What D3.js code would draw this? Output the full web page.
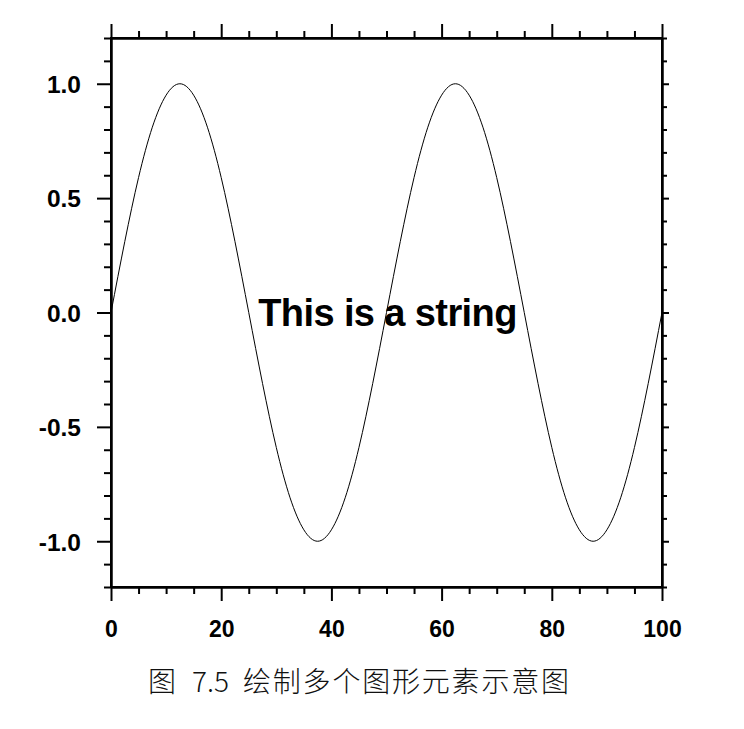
<!DOCTYPE html>
<html>
<head>
<meta charset="utf-8">
<script src="https://cdn.jsdelivr.net/npm/d3@7"></script>
<style>
  body { margin: 0; background: #fff; }
  svg { display: block; }
</style>
</head>
<body>
<svg width="744" height="729"></svg>
<script>
// curve points
const xValues = [0, 2.5, 5, 7.5, 10, 12.5, 15, 17.5, 20, 22.5, 25, 27.5, 30, 32.5, 35, 37.5, 40, 42.5, 45, 47.5,
                 50, 52.5, 55, 57.5, 60, 62.5, 65, 67.5, 70, 72.5, 75, 77.5, 80, 82.5, 85, 87.5, 90, 92.5, 95, 97.5, 100];
const yValues = [0, 0.31, 0.59, 0.81, 0.95, 1, 0.95, 0.81, 0.59, 0.31, 0, -0.31, -0.59, -0.81, -0.95, -1, -0.95, -0.81, -0.59, -0.31,
                 0, 0.31, 0.59, 0.81, 0.95, 1, 0.95, 0.81, 0.59, 0.31, 0, -0.31, -0.59, -0.81, -0.95, -1, -0.95, -0.81, -0.59, -0.31, 0];

const xTicks = [0, 20, 40, 60, 80, 100];
const yTicks = [-1.0, -0.5, 0.0, 0.5, 1.0];
const xMinor = [5, 10, 15, 25, 30, 35, 45, 50, 55, 65, 70, 75, 85, 90, 95];
const yMinor = [-1.2, -1.1, -0.9, -0.8, -0.7, -0.6, -0.4, -0.3, -0.2, -0.1, 0.1, 0.2, 0.3, 0.4, 0.6, 0.7, 0.8, 0.9, 1.1, 1.2];
const label = "This is a string";
const caption = ["图", "7.5", "绘制多个图形元素示意图"];

var svg = d3.select("svg");
const pLeft = 111, pRight = 662, pTop = 38, pBottom = 587;

var x = d3.scaleLinear().domain([0, 100]).range([pLeft, pRight]);
var y = d3.scaleLinear().domain([-1.2, 1.2]).range([pBottom, pTop]);

const tickFont = "'Liberation Sans', Arial, Helvetica, sans-serif";

// axes: major ticks 14px outward, minor 7px
function drawAxis(axis, translate) {
    var g = svg.append("g").attr("transform", translate).call(axis);
    g.select(".domain").attr("stroke-width", 2);
    g.selectAll("line").attr("stroke-width", 2);
    return g;
}

// bottom
var gb = drawAxis(d3.axisBottom(x).tickValues(xTicks).tickSize(14).tickSizeOuter(0).tickFormat(d3.format("d")),
    "translate(0," + pBottom + ")");
gb.selectAll("text").attr("font-family", tickFont).attr("font-weight", "bold")
    .attr("font-size", 23).attr("y", 0).attr("dy", "50").attr("fill", "#000");
drawAxis(d3.axisBottom(x).tickValues(xMinor).tickSize(7).tickSizeOuter(0).tickFormat(""), "translate(0," + pBottom + ")");

// top
drawAxis(d3.axisTop(x).tickValues(xTicks).tickSize(14).tickSizeOuter(0).tickFormat(""), "translate(0," + pTop + ")");
drawAxis(d3.axisTop(x).tickValues(xMinor).tickSize(7).tickSizeOuter(0).tickFormat(""), "translate(0," + pTop + ")");

// left
var gl = drawAxis(d3.axisLeft(y).tickValues(yTicks).tickSize(14).tickSizeOuter(0).tickFormat(d3.format(".1f")),
    "translate(" + pLeft + ",0)");
gl.selectAll("text").attr("font-family", tickFont).attr("font-weight", "bold")
    .attr("font-size", 24.5).attr("x", -30).attr("dy", "0.36em").attr("fill", "#000")
    .text(d => d3.format(".1f")(d).replace("−", "-"));
drawAxis(d3.axisLeft(y).tickValues(yMinor).tickSize(7).tickSizeOuter(0).tickFormat(""), "translate(" + pLeft + ",0)");

// right
drawAxis(d3.axisRight(y).tickValues(yTicks).tickSize(7).tickSizeOuter(0).tickFormat(""), "translate(" + pRight + ",0)");
drawAxis(d3.axisRight(y).tickValues(yMinor).tickSize(5).tickSizeOuter(0).tickFormat(""), "translate(" + pRight + ",0)");

// frame
svg.append("rect")
    .attr("x", pLeft).attr("y", pTop)
    .attr("width", pRight - pLeft).attr("height", pBottom - pTop)
    .attr("fill", "none").attr("stroke", "#000").attr("stroke-width", 2);

// the curve
var line = d3.line()
    .x((d, i) => x(xValues[i]))
    .y(d => y(d))
    .curve(d3.curveNatural);

svg.append("path")
    .datum(yValues)
    .attr("fill", "none")
    .attr("stroke", "#000")
    .attr("stroke-width", 1)
    .attr("d", line);

// text string in the middle
svg.append("text")
    .attr("x", x(50) + 1)
    .attr("y", y(0) + 13)
    .attr("text-anchor", "middle")
    .attr("font-family", tickFont)
    .attr("font-weight", "bold")
    .attr("font-size", 38)
    .attr("letter-spacing", -0.6)
    .text(label);

// caption
const capFont = "'Noto Sans CJK SC', sans-serif";
const capX = [148, 192, 243];
svg.selectAll(".caption")
    .data(caption)
    .enter().append("text")
    .attr("class", "caption")
    .attr("x", (d, i) => capX[i])
    .attr("y", 692)
    .attr("font-family", capFont)
    .attr("font-weight", 300)
    .attr("font-size", 28)
    .attr("letter-spacing", (d, i) => i == 2 ? 1.8 : 0)
    .attr("fill", "#111")
    .text(d => d);
</script>
</body>
</html>
